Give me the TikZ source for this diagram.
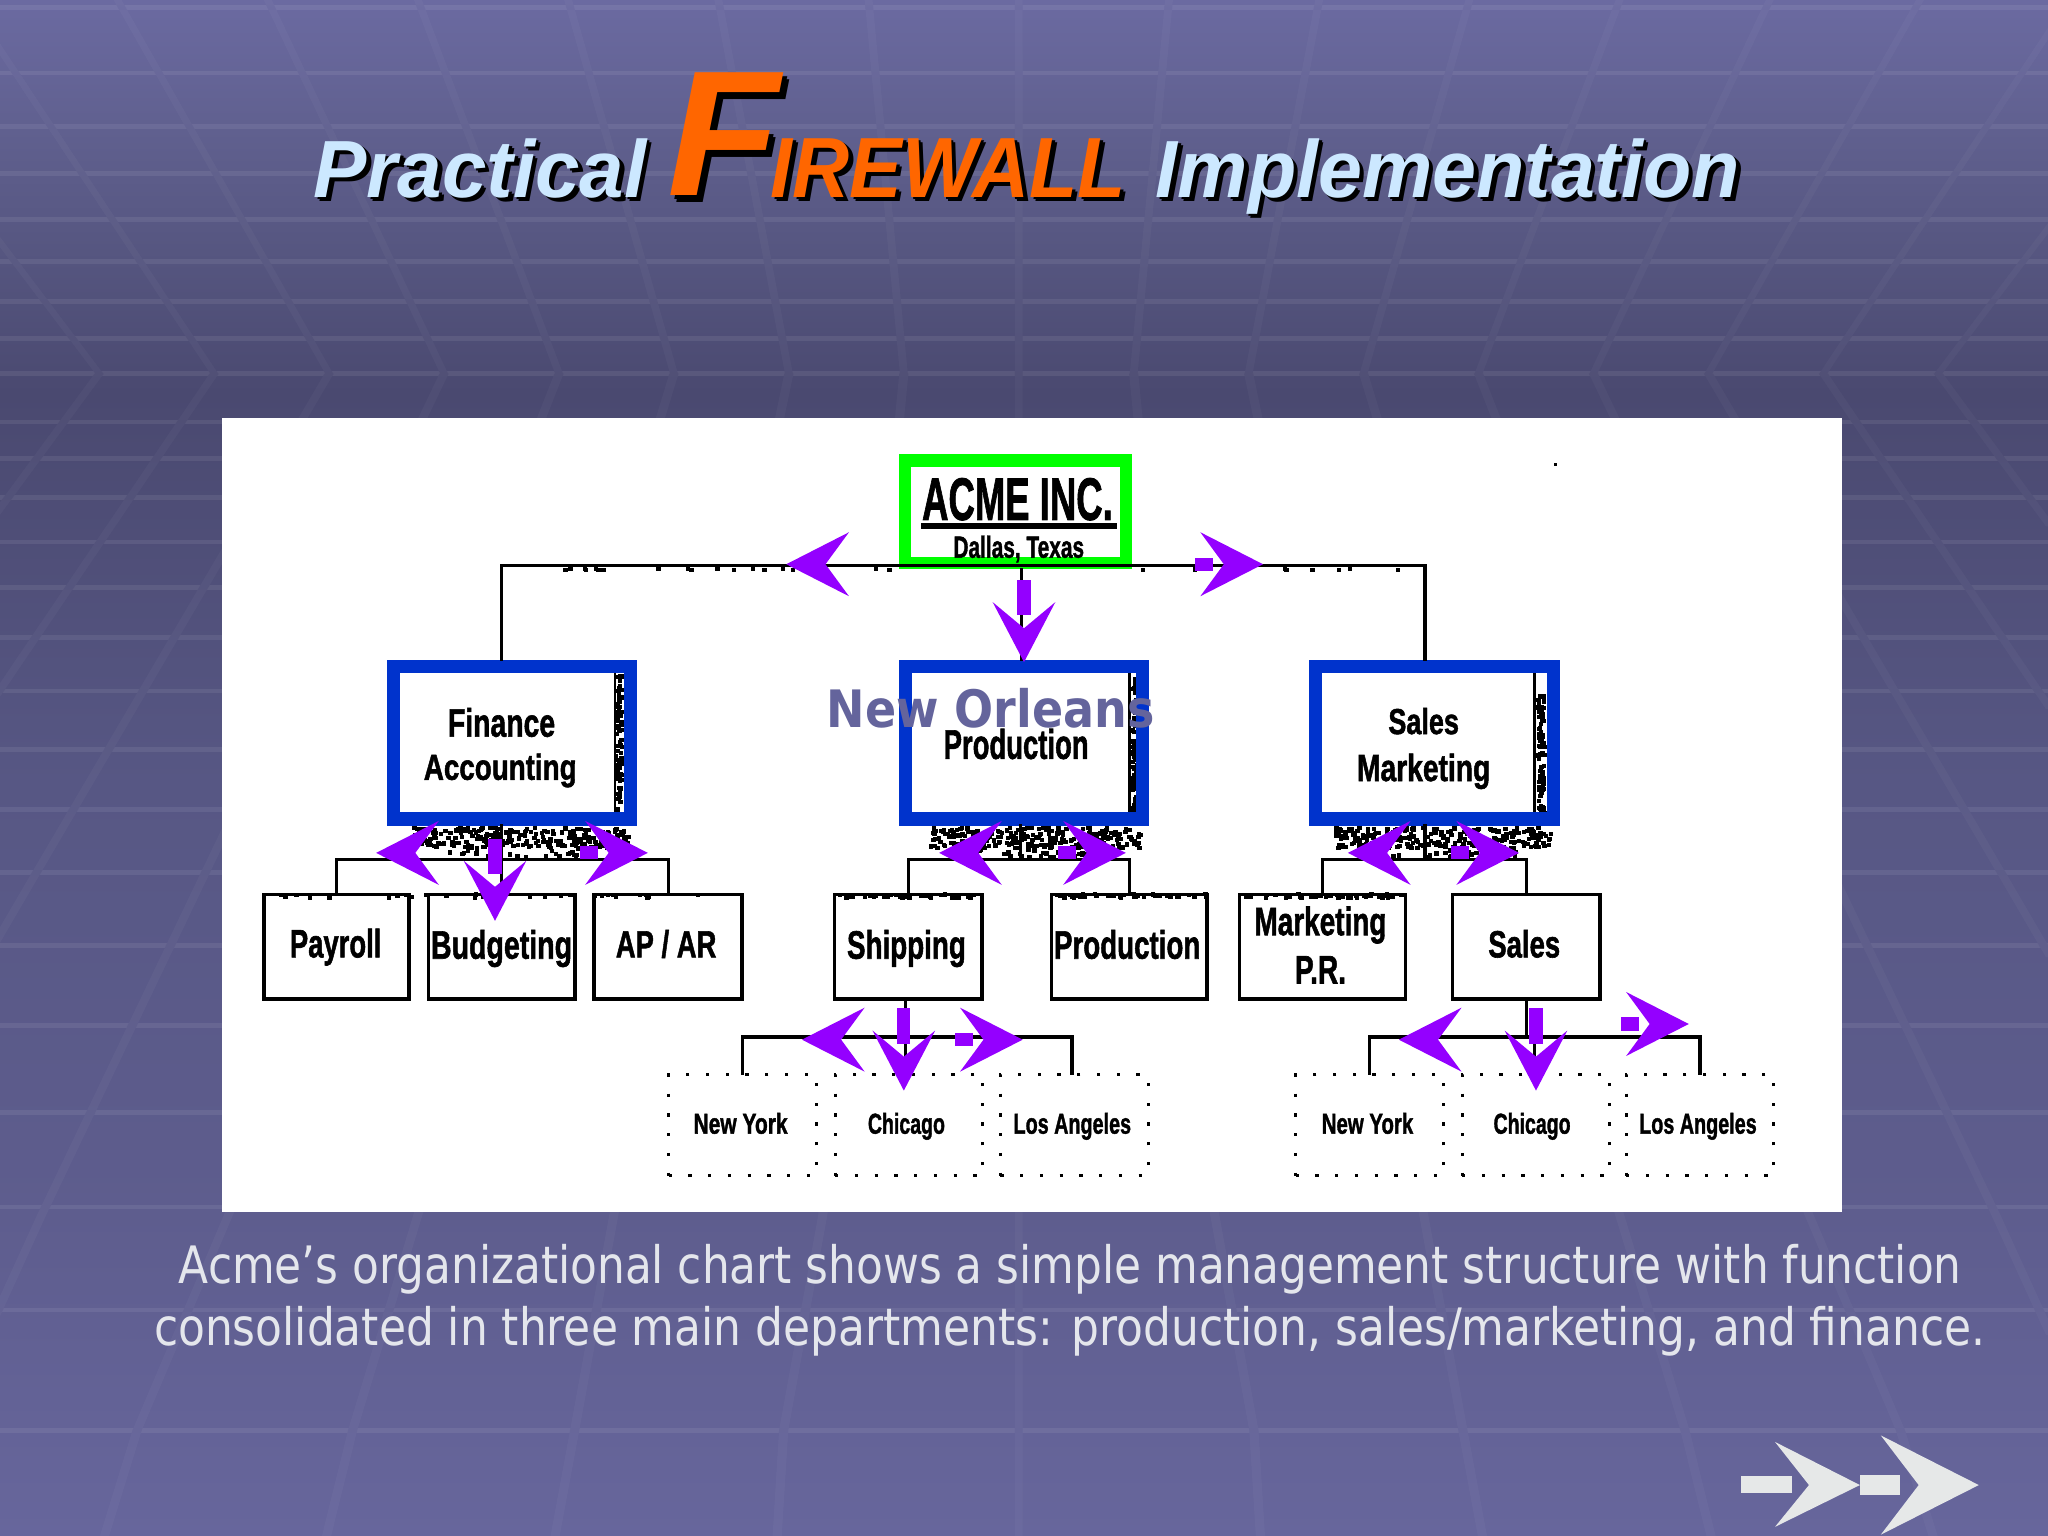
\documentclass[tikz,border=0pt]{standalone}
\usepackage{fontspec}
\usepackage{graphicx}
\setmainfont{Liberation Sans}
\newfontfamily\chartf{Liberation Sans}[BoldFeatures={FakeBold=1.6}]
\newfontfamily\bodyf{DejaVu Sans Condensed}
\newdimen\U \U=0.01cm
\newcommand\fitt[3]{\resizebox{#1\U}{#2\U}{#3}}
\definecolor{purp}{HTML}{9400FF}
\definecolor{bluebd}{HTML}{0033CC}
\definecolor{greenbd}{HTML}{00FF00}
\definecolor{titleblue}{HTML}{CCE8FF}
\definecolor{firered}{HTML}{FF6600}
\definecolor{bodytxt}{HTML}{E4E6EC}
\definecolor{nextw}{HTML}{E6E8E8}
\definecolor{orl}{HTML}{64649C}
\definecolor{bg1}{HTML}{6B6AA1}
\definecolor{bg2}{HTML}{60608F}
\definecolor{bg3}{HTML}{55557F}
\definecolor{bg4}{HTML}{4A4970}
\definecolor{bg5}{HTML}{575784}
\definecolor{bg6}{HTML}{5E5D8E}
\definecolor{bg7}{HTML}{67669C}
\pgfdeclareverticalshading{bgsh}{100bp}{
 color(0bp)=(bg7); color(25bp)=(bg7); color(35.5bp)=(bg6); color(49.5bp)=(bg5);
 color(62.2bp)=(bg4); color(66.5bp)=(bg3); color(70.75bp)=(bg2); color(75bp)=(bg1); color(100bp)=(bg1)}
\tikzset{
 lbl/.style={inner sep=0pt,outer sep=0pt,anchor=base,font=\chartf\bfseries},
 lblw/.style={inner sep=0pt,outer sep=0pt,anchor=base west,font=\bfseries\itshape},
 bodyline/.style={inner sep=0pt,outer sep=0pt,anchor=base west,text=bodytxt,font=\bodyf},
 bluebox/.style={draw=bluebd,line width=0.1cm,rectangle,inner sep=0pt,minimum width=1.82cm,minimum height=1.17cm},
 greenbox/.style={draw=greenbd,line width=0.095cm,rectangle,inner sep=0pt,minimum width=1.695cm,minimum height=0.785cm},
 orgbox/.style={draw=black,line width=0.028cm,rectangle,inner sep=0pt,minimum height=0.8cm},
 dotbox/.style={draw=black,line width=0.024cm,rectangle,inner sep=0pt,minimum height=0.77cm,minimum width=1.13cm,dash pattern=on 0.7pt off 3.6pt},
 conn/.style={draw=black,line width=0.024cm,line cap=rect},
}
\newcommand\speck[5]{% x0 y0 x1 y1 n
 \foreach \i in {1,...,#5}{
  \pgfmathsetmacro\sx{#1+rnd*(#3-#1)}
  \pgfmathsetmacro\sy{#2+rnd*(#4-#2)}
  \fill[black] (\sx,\sy) rectangle ++(3.4,3.2);
 }}
\newcommand\arrowL[2]{\fill[purp] (#1,#2) -- ++(48,-24.5) -- ++(-18,24.5) -- ++(18,24.5) -- cycle;}
\newcommand\arrowR[2]{\fill[purp] (#1,#2) -- ++(-48,-24.5) -- ++(18,24.5) -- ++(-18,24.5) -- cycle;\fill[purp] (#1-52,#2-5) rectangle ++(14,10);}
\newcommand\arrowD[2]{\fill[purp] (#1,#2) -- ++(-24,-46) -- ++(24,20) -- ++(24,-20) -- cycle;\fill[purp] (#1-5,#2-63) rectangle ++(10,27);}
\begin{document}
\begin{tikzpicture}[x=0.01cm,y=-0.01cm]
\useasboundingbox (0,0) rectangle (1568,1176);
\pgfmathsetseed{4711}
% background
\shade[shading=bgsh] (0,0) rectangle (1568,1176);
\foreach \yy in {6,56,97,133,168,200,231,259,286,323,351,381,415,450,488,529,574,620,668,724,785,852,924,1003,1095}
  \fill[white,opacity=0.075] (0,\yy-1.8) rectangle (1568,\yy+1.8);
\begin{scope}
\clip
 \foreach \s in {-1,1}{
  \foreach \k in {1,...,8}{
   ({780+\s*115*\k-3},0) -- ({780+\s*115*\k+3},0) -- ({780+\s*88*\k+3},286) -- ({780+\s*88*\k-3},286) -- cycle
  }
  \foreach \xa/\ya/\xb/\yb in {692/286/630/930,630/930/600/1095,600/1095/595/1176,
    604/286/470/930,470/930/440/1095,440/1095/425/1176,
    516/286/320/930,320/930/270/1095,270/1095/250/1176,
    428/286/175/930,175/930/105/1095,105/1095/80/1176,
    340/286/32/930,32/930/-10/1022,
    252/286/25/673,25/673/-10/733,
    164/286/-10/543,
    76/286/-10/403}{
   ({780+\s*(\xa-780)-3.5},\ya) -- ({780+\s*(\xa-780)+3.5},\ya) -- ({780+\s*(\xb-780)+3.5},\yb) -- ({780+\s*(\xb-780)-3.5},\yb) -- cycle
  }
 }
 (777,0) -- (783,0) -- (783,1176) -- (777,1176) -- cycle;
\shade[shading=bgsh] (0,0) rectangle (1568,1176);
\fill[white,opacity=0.03] (0,0) rectangle (1568,1176);
\end{scope}
% title
\foreach \d/\nm in {2/a,3.5/b}{
 \node[lblw,text=black] (shp\nm) at (240+\d,151+\d) {\fitt{255}{45}{Practical}};
 \node[lblw,text=black] (shi\nm) at (590+\d,151+\d) {\fitt{272}{45}{IREWALL}};
 \node[lblw,text=black] (shm\nm) at (885+\d,151+\d) {\fitt{447}{45}{Implementation}};
 \node[lblw,text=black] (shf\nm) at (511+\d*1.4,150+\d*1.4) {\fitt{86}{94}{F}};
}
\node[lblw,text=titleblue] (tpract) at (240,151) {\fitt{255}{45}{Practical}};
\node[lblw,text=firered] (tfire) at (511,150) {\fitt{86}{94}{F}};
\node[lblw,text=firered] (tirew) at (590,151) {\fitt{272}{45}{IREWALL}};
\node[lblw,text=titleblue] (timpl) at (885,151) {\fitt{447}{45}{Implementation}};
% panel
\fill[white] (170,320) rectangle (1410,928);
\fill[black] (1190,354.5) rectangle ++(2.2,2.2);
% speckle
\speck{315}{632}{480}{648}{260}
\speck{340}{649}{480}{655}{35}
\speck{710}{632}{872}{648}{260}
\speck{730}{649}{860}{655}{35}
\speck{1020}{632}{1186}{648}{260}
\speck{1040}{649}{1160}{655}{35}
\speck{470}{516}{475}{622}{80}
\speck{865}{516}{869}{622}{80}
\speck{1176}{530}{1181}{622}{80}
\speck{400}{434}{680}{435}{22}
\speck{870}{434}{1080}{435}{10}
\speck{203}{683}{566}{686}{30}
\speck{640}{683}{750}{686}{34}
\speck{806}{683}{922}{686}{44}
\speck{950}{683}{1074}{686}{44}
\fill[black] (470,515) rectangle (471.8,622);
\fill[black] (864,515) rectangle (865.8,622);
\fill[black] (1174,515) rectangle (1175.8,622);
% boxes
\node[greenbox] (acme) at (777.5,392) {};
\node[bluebox] (fin) at (392,568.5) {};
\node[bluebox] (prd) at (784,568.5) {};
\node[bluebox] (sal) at (1098,568.5) {};
\node[orgbox,minimum width=1.11cm] (pay) at (257.5,725) {};
\node[orgbox,minimum width=1.12cm] (bud) at (384,725) {};
\node[orgbox,minimum width=1.13cm] (apar) at (511.5,725) {};
\node[orgbox,minimum width=1.13cm] (ship) at (695.5,725) {};
\node[orgbox,minimum width=1.19cm] (prod) at (864.5,725) {};
\node[orgbox,minimum width=1.27cm] (mark) at (1012.5,725) {};
\node[orgbox,minimum width=1.13cm] (sale) at (1168.5,725) {};
\node[dotbox] (ny1) at (568.5,861.5) {};
\node[dotbox] (ch1) at (696,861.5) {};
\node[dotbox] (la1) at (822.5,861.5) {};
\node[dotbox] (ny2) at (1048.5,861.5) {};
\node[dotbox] (ch2) at (1176,861.5) {};
\node[dotbox] (la2) at (1301.5,861.5) {};
% bar coordinates
\coordinate (tl) at (384,433);
\coordinate (tr) at (1091,433);
\coordinate (tc) at (782,433);
\coordinate (al) at (257.5,658);
\coordinate (ac) at (384,658);
\coordinate (ar) at (511.5,658);
\coordinate (bl) at (695.5,658);
\coordinate (bc) at (781,658);
\coordinate (br) at (864.5,658);
\coordinate (cl) at (1012.5,658);
\coordinate (cc) at (1091,658);
\coordinate (cr) at (1168.5,658);
\coordinate (dl) at (568.5,794);
\coordinate (dc) at (693,794);
\coordinate (dr) at (821,794);
\coordinate (el) at (1048.5,794);
\coordinate (ec) at (1168.5,794);
\coordinate (ecb) at (1175,794);
\coordinate (er) at (1301.5,794);
% connectors
\draw[conn] (tl |- fin.north) -- (tl) -- (tr) -- (tr |- sal.north);
\draw[conn] (tc |- acme.south) -- (tc |- prd.north);
\draw[conn] (ac |- fin.south) -- (ac) -- (bud.north);
\draw[conn] (pay.north) -- (al) -- (ar) -- (apar.north);
\draw[conn] (bc |- prd.south) -- (bc);
\draw[conn] (ship.north) -- (bl) -- (br) -- (prod.north);
\draw[conn] (cc |- sal.south) -- (cc);
\draw[conn] (mark.north) -- (cl) -- (cr) -- (sale.north);
\draw[conn] (dc |- ship.south) -- (dc) -- (dc |- ch1.north);
\draw[conn,line width=0.03cm] (dl |- ny1.north) -- (dl) -- (dr) -- (dr |- la1.north);
\draw[conn] (ec |- sale.south) -- (ec);
\draw[conn] (ecb) -- (ecb |- ch2.north);
\draw[conn,line width=0.03cm] (el |- ny2.north) -- (el) -- (er) -- (er |- la2.north);
% labels
\node[lbl] (l1) at (779,398) {\fitt{146}{32}{ACME INC.}};
\fill[black] (705,400.5) rectangle (855,405);
\node[lbl] (l2) at (780,427) {\fitt{100}{17}{Dallas, Texas}};
\node[lbl] (l3) at (384,564) {\fitt{82}{22}{Finance}};
\node[lbl] (l4) at (383,597) {\fitt{117}{20}{Accounting}};
\node[lbl] (l5) at (778,581) {\fitt{111}{23}{Production}};
\node[lbl] (l6) at (1090,562) {\fitt{54}{20}{Sales}};
\node[lbl] (l7) at (1090,598) {\fitt{102}{21}{Marketing}};
\node[lbl] (l8) at (257,733) {\fitt{70}{22}{Payroll}};
\node[lbl] (l9) at (384,734) {\fitt{108}{22}{Budgeting}};
\node[lbl] (l10) at (510,733) {\fitt{77}{21}{AP / AR}};
\node[lbl] (l11) at (694,734) {\fitt{91}{22}{Shipping}};
\node[lbl] (l12) at (863,734) {\fitt{112}{22}{Production}};
\node[lbl] (l13) at (1011,716) {\fitt{101}{22}{Marketing}};
\node[lbl] (l14) at (1011,753) {\fitt{39}{21}{P.R.}};
\node[lbl] (l15) at (1167,733) {\fitt{55}{21}{Sales}};
\node[lbl] (l16) at (567,868) {\fitt{72}{16}{New York}};
\node[lbl] (l17) at (694,868) {\fitt{59}{16}{Chicago}};
\node[lbl] (l18) at (821,868) {\fitt{90}{16}{Los Angeles}};
\node[lbl] (l19) at (1047,868) {\fitt{70}{16}{New York}};
\node[lbl] (l20) at (1173,868) {\fitt{59}{16}{Chicago}};
\node[lbl] (l21) at (1300,868) {\fitt{90}{16}{Los Angeles}};
\node[inner sep=0pt,anchor=base,text=orl,font=\bodyf\bfseries] (norl) at (758.5,557) {\fitt{251}{30}{New Orleans}};
% purple arrows
\arrowL{602}{432}
\arrowR{967}{432}
\arrowD{784}{507}
\arrowL{288}{653}
\arrowR{496}{653}
\arrowD{379}{705}
\arrowL{719}{653}
\arrowR{862}{653}
\arrowL{1032}{653}
\arrowR{1163}{653}
\arrowL{614}{796}
\arrowD{692}{835}
\arrowR{783}{796}
\arrowL{1071}{796}
\arrowD{1176}{835}
\arrowR{1293}{784}
% body text
\node[bodyline] (b1) at (137,983) {\fitt{1365}{30}{Acme’s organizational chart shows a simple management structure with function}};
\node[bodyline] (b2) at (118,1030) {\fitt{1402}{30}{consolidated in three main departments: production, sales/marketing, and finance.}};
% next arrows
\fill[nextw] (1333,1130) rectangle (1372,1143);
\fill[nextw] (1424,1137) -- (1359,1104) -- (1385,1137) -- (1359,1169) -- cycle;
\fill[nextw] (1424,1129) rectangle (1455,1144.6);
\fill[nextw] (1515,1137) -- (1440,1099) -- (1469,1137) -- (1440,1175) -- cycle;
\end{tikzpicture}
\end{document}
